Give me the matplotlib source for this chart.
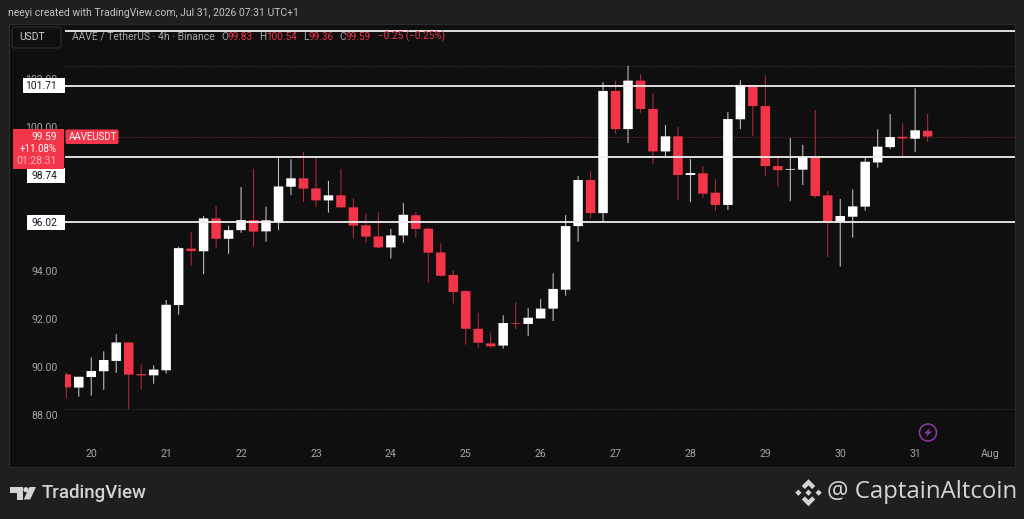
import matplotlib
matplotlib.use("Agg")
import matplotlib.pyplot as plt
from matplotlib.patches import Rectangle, FancyBboxPatch, Polygon, Circle

plt.rcParams['font.family'] = ['Roboto', 'DejaVu Sans']

# 4h candles
opens = [89.68, 89.13, 89.57, 89.81, 90.24, 91.01, 89.69, 89.64, 89.85, 92.57,
         94.92, 94.81, 96.18, 95.33, 95.69, 96.11, 95.64, 96.03, 97.50, 97.85,
         97.43, 96.93, 97.14, 96.64, 95.89, 95.43, 94.97, 95.47, 96.31, 95.75,
         94.76, 93.82, 93.15, 91.58, 90.97, 90.88, 91.82, 91.78, 92.01, 92.42,
         93.21, 95.86, 97.78, 96.40, 101.49, 99.90, 101.92, 100.74, 98.97, 99.60,
         97.99, 98.06, 97.25, 96.74, 100.31, 101.74, 100.86, 98.36, 98.21, 98.21,
         98.75, 97.14, 96.03, 96.25, 96.67, 98.51, 99.15, 99.58, 99.50, 99.83]
highs = [89.76, 89.58, 90.39, 90.64, 91.36, 91.01, 90.11, 90.06, 92.78, 95.00,
         95.61, 96.28, 96.70, 95.88, 97.49, 98.25, 96.67, 98.72, 98.64, 98.96,
         98.72, 97.74, 98.24, 97.01, 96.39, 96.44, 95.74, 96.82, 96.44, 95.81,
         95.14, 94.01, 93.19, 92.24, 91.42, 92.14, 92.68, 92.44, 92.81, 93.89,
         96.32, 97.94, 98.15, 101.85, 101.92, 102.54, 102.19, 101.40, 100.07, 99.99,
         98.65, 98.36, 97.81, 100.61, 101.94, 101.74, 102.14, 98.72, 99.53, 99.24,
         100.69, 97.33, 96.99, 97.39, 98.72, 99.89, 100.53, 100.14, 101.60, 100.54]
lows = [88.68, 88.75, 88.79, 89.04, 89.74, 88.24, 89.06, 89.29, 89.71, 92.17,
        94.21, 93.85, 94.97, 94.71, 95.58, 95.00, 95.21, 95.69, 97.15, 96.86,
        96.67, 96.42, 96.60, 95.35, 95.14, 94.94, 94.51, 95.17, 95.38, 93.51,
        93.75, 92.64, 90.92, 90.79, 90.79, 90.75, 91.56, 91.28, 92.01, 91.90,
        92.96, 95.21, 96.18, 96.07, 99.72, 99.33, 100.58, 98.44, 98.78, 96.94,
        96.85, 97.04, 96.49, 96.53, 99.90, 99.61, 97.96, 97.50, 96.90, 97.57,
        97.04, 94.57, 94.17, 95.38, 96.50, 98.29, 99.07, 98.71, 98.94, 99.36]
closes = [89.14, 89.58, 89.82, 90.28, 91.01, 89.67, 89.64, 89.88, 92.58, 94.94,
          94.82, 96.18, 95.33, 95.69, 96.11, 95.63, 96.10, 97.51, 97.85, 97.42,
          96.93, 97.14, 96.64, 95.88, 95.42, 94.97, 95.47, 96.33, 95.74, 94.75,
          93.79, 93.11, 91.58, 91.00, 90.85, 91.82, 91.79, 92.04, 92.42, 93.24,
          95.86, 97.78, 96.40, 101.49, 99.90, 101.92, 100.74, 98.97, 99.60, 97.99,
          98.07, 97.21, 96.74, 100.32, 101.74, 100.86, 98.36, 98.19, 98.24, 98.74,
          97.11, 96.06, 96.28, 96.68, 98.54, 99.17, 99.57, 99.51, 99.85, 99.59]

price_ticks = [88, 90, 92, 94, 96, 98, 100, 102]
date_ticks = [2, 8, 14, 20, 26, 32, 38, 44, 50, 56, 62, 68, 74]
date_labels = ['20', '21', '22', '23', '24', '25', '26', '27', '28', '29', '30', '31', 'Aug']
levels = [96.02, 98.74, 101.71]
top_level = 104.0
last_close = 99.59

BG = '#1f1f1f'
PANEL = '#0f0f0f'
RED = '#f23548'
GREY = '#a6a6a6'
W, H = 1024, 519

fig = plt.figure(figsize=(W / 100, H / 100), dpi=100, facecolor=BG)

def pixel_axes(zorder):
    a = fig.add_axes([0, 0, 1, 1], zorder=zorder)
    a.set_xlim(0, W)
    a.set_ylim(H, 0)
    a.axis('off')
    return a

back = pixel_axes(0)
front = pixel_axes(3)
back.add_patch(Rectangle((8.5, 23.5), 1006.5, 443.5, fc=PANEL, ec='#2b2b2b', lw=0.8))

# price chart, placed so the price scale lands on the reference pixels
ax = fig.add_axes([65 / W, 1 - 447 / H, 950 / W, 423 / H], zorder=1)
ax.patch.set_alpha(0)
ax.set_xlim(-0.104, 76.0)
ax.set_ylim(86.654, 104.28)
for s in ax.spines.values():
    s.set_visible(False)
ax.set_yticks(price_ticks)
ax.set_yticklabels([f'{p:.2f}' for p in price_ticks])
ax.set_xticks(date_ticks)
ax.set_xticklabels(date_labels)
ax.tick_params(axis='y', length=0, pad=5.4, labelsize=7.6, labelcolor=GREY)
ax.tick_params(axis='x', length=0, pad=1.5, labelsize=7.6, labelcolor=GREY)

# high / low of the visible range and the last price
ax.axhline(max(highs), color='#3d3d3d', lw=0.7, ls=(0, (1, 1.5)), zorder=1)
ax.axhline(min(lows), color='#3d3d3d', lw=0.7, ls=(0, (1, 1.5)), zorder=1)
ax.axhline(last_close, color='#8c2231', lw=0.7, ls=(0, (1, 1.5)), zorder=1)

for i in range(len(opens)):
    up = closes[i] >= opens[i]
    color = 'white' if up else RED
    wick = '#c4c4c4' if up else '#b02a3a'
    ax.vlines(i, lows[i], highs[i], color=wick, lw=0.75, zorder=2, snap=False)
    bottom = min(opens[i], closes[i])
    height = abs(closes[i] - opens[i])
    bar = ax.bar(i, height, bottom=bottom, width=0.76, color=color, zorder=3)
    bar[0].set_snap(False)

for level in levels + [top_level]:
    ax.axhline(level, color='#eeeeee', lw=1.3, zorder=4)

# left price labels, the 98.74 one is pushed down below the red box
def y_of(price):
    return 414.7 - (price - 88) * 24

for level, left, shift in zip(levels, [27, 27, 22.5], [0, 18.5, 0]):
    yc = y_of(level) + shift
    front.add_patch(Rectangle((left, yc - 7.5), 64.5 - left, 15, fc='white', ec='none', zorder=2))
    front.text(57, yc + 0.3, f'{level:.2f}', color='#131722', fontsize=7.4, ha='right', va='center', zorder=3)

front.add_patch(Rectangle((13, 129), 51, 39.5, fc=RED, ec='none', zorder=4))
front.text(57, 136.5, f'{last_close:.2f}', color='white', fontsize=7.3, ha='right', va='center', zorder=5)
front.text(57, 148.5, '+11.08%', color='white', fontsize=7.0, ha='right', va='center', zorder=5)
front.text(57, 160.5, '01:28:31', color='#ffb3ba', fontsize=7.6, ha='right', va='center', zorder=5)
front.add_patch(FancyBboxPatch((65.5, 129.5), 53, 14.5, boxstyle='round,pad=0,rounding_size=1.5',
                               fc=RED, ec='none', zorder=4))
front.text(69, 136.8, 'AAVEUSDT', color='white', fontsize=6.9, va='center', zorder=5)

# header
front.text(8.5, 13, 'neeyi created with TradingView.com, Jul 31, 2026 07:31 UTC+1',
           color='#c4c4c4', fontsize=7.5, va='center')
front.add_patch(FancyBboxPatch((12, 27), 49, 21, boxstyle='round,pad=0,rounding_size=3',
                               fc=PANEL, ec='#2e2e2e', lw=0.8))
front.text(31.7, 37.5, 'USDT', color='#d6d6d6', fontsize=7.4, ha='center', va='center')

front.text(72, 36.5, 'AAVE / TetherUS · 4h · Binance', color='#a8a8a8', fontsize=7.5, va='center')
legend_parts = [(221, 'O', '#a8a8a8'), (227.5, '99.83', RED), (259.5, 'H', '#a8a8a8'), (266.5, '100.54', RED),
                (303, 'L', '#a8a8a8'), (308.5, '99.36', RED), (339.5, 'C', '#a8a8a8'), (346, '99.59', RED),
                (377.5, '−0.25 (−0.25%)', RED)]
for x, s, c in legend_parts:
    front.text(x, 36.5, s, color=c, fontsize=7.2, va='center')

# TradingView logo
LOGO = '#d4d4d4'
front.add_patch(Polygon([(10, 487), (22.5, 487), (22.5, 499.5), (16.5, 499.5), (16.5, 492.5), (10, 492.5)], fc=LOGO, ec='none'))
front.add_patch(Circle((26, 489.7), 2.6, fc=LOGO, ec='none'))
front.add_patch(Polygon([(29.5, 487), (36, 487), (30.2, 499.5), (23.7, 499.5)], fc=LOGO, ec='none'))
front.text(42, 493.5, 'TradingView', color=LOGO, fontsize=13.4, fontweight='medium', va='center')

# Binance mark and watermark
def diamond(cx, cy, r):
    return [(cx, cy - r), (cx + r, cy), (cx, cy + r), (cx - r, cy)]

cx, cy, s = 808.5, 492.7, 13.5
for dx in (-0.75, 0, 0.75):
    front.add_patch(Polygon(diamond(cx + dx * s, cy, 0.23 * s), fc=LOGO, ec='none'))
for sign in (-1, 1):
    pts = [(0, 1), (0.5, 0.5), (0.27, 0.27), (0, 0.54), (-0.27, 0.27), (-0.5, 0.5)]
    front.add_patch(Polygon([(cx + a * s, cy + sign * b * s) for a, b in pts], fc=LOGO, ec='none'))
front.text(827, 492.5, '@ CaptainAltcoin', color='#d4d4d4', fontsize=17.3, family='Open Sans', va='center')

# lightning badge
front.add_patch(Circle((928, 432.5), 8.5, fc='none', ec='#8e3aa5', lw=1.1))
front.add_patch(Polygon([(930.5, 427.5), (924, 433.5), (927.5, 433.5), (925.5, 437.5), (932, 431.5), (928.5, 431.5)],
                        fc='#8e3aa5', ec='none'))

fig.savefig('out.png', dpi=100, facecolor=BG)
